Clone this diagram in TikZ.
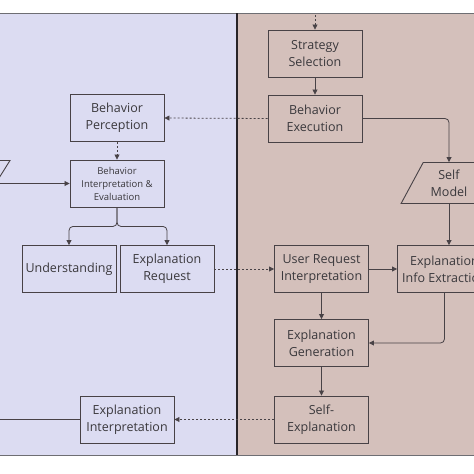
\documentclass[tikz,border=0pt]{standalone}
\usepackage{fontspec}
\setmainfont{Open Sans}
\usetikzlibrary{positioning, shapes.geometric, arrows.meta}
\definecolor{UserPanel}{RGB}{220,220,242}
\definecolor{RobotPanel}{RGB}{212,192,187}
\definecolor{LineGray}{RGB}{72,66,70}
\definecolor{TextGray}{RGB}{58,56,60}
\definecolor{BorderGray}{RGB}{110,110,115}
\definecolor{DividerDark}{RGB}{40,36,40}

\begin{document}
\begin{tikzpicture}[x=1pt, y=-1pt,
    block/.style={draw=LineGray, line width=0.9pt, minimum width=94pt, minimum height=47pt,
                  inner sep=1pt, align=center, text=TextGray, font=\fontsize{12.5}{17}\selectfont},
    smallblock/.style={block, font=\fontsize{9.5}{13}\selectfont},
    datablock/.style={draw=LineGray, line width=0.9pt, trapezium, trapezium left angle=60,
                  trapezium right angle=120, trapezium stretches=true, minimum width=96pt,
                  minimum height=41pt, inner sep=1pt, align=center, text=TextGray,
                  font=\fontsize{12.5}{17}\selectfont},
    flow/.style={draw=LineGray, line width=0.8pt, -{Triangle[length=5pt, width=5pt]}},
    dotflow/.style={flow, dash pattern=on 2pt off 2pt},
    link/.style={draw=LineGray, line width=0.8pt}]
    \useasboundingbox (0,0) rectangle (474,474);
    \clip (0,0) rectangle (474,474);

    % Panels
    \fill[UserPanel] (-10,13) rectangle (237,455);
    \fill[RobotPanel] (237,13) rectangle (484,455);
    \draw[BorderGray, line width=0.8pt] (-10,13) -- (484,13);
    \draw[BorderGray, line width=0.8pt] (-10,455) -- (484,455);
    \draw[DividerDark, line width=2pt] (237,13) -- (237,455);

    % User side
    \node[block] (perception) at (117,118) {Behavior\\Perception};
    \node[smallblock] (interp) at (117,183.5) {Behavior\\Interpretation \&\\Evaluation};
    \node[datablock] (observation) at (-38,181) {};
    \node[block] (understanding) at (69,269) {Understanding};
    \node[block] (request) at (167,269) {Explanation\\Request};
    \node[block] (explinterp) at (127,419.5) {Explanation\\Interpretation};
    \coordinate (leftout) at (-10,419.5);

    % Robot side
    \coordinate (topin) at (315,15);
    \node[block] (strategy) at (315,53.5) {Strategy\\Selection};
    \node[block] (execution) at (315,118.5) {Behavior\\Execution};
    \node[datablock] (selfmodel) at (449,183) {Self\\Model};
    \node[block] (userreq) at (321.5,269) {User Request\\Interpretation};
    \node[block] (extraction) at (444.5,269) {Explanation\\Info Extraction};
    \node[block] (generation) at (321.5,343) {Explanation\\Generation};
    \node[block] (selfexpl) at (321.5,419.5) {Self-\\Explanation};

    % Connections
    \draw[dotflow] (topin) -- (strategy.north);
    \draw[flow] (strategy) -- (execution);
    \draw[dotflow] (execution.west) -- (perception.east);
    \draw[dotflow] (perception) -- (interp);
    \draw[flow] (interp.west -| observation.east) -- (interp.west);
    \draw[flow, rounded corners=4pt] (interp.south) -- ++(0,19) -| (understanding.north);
    \draw[flow, rounded corners=4pt] (interp.south) -- ++(0,19) -| (request.north);
    \draw[flow, rounded corners=4pt] (execution.east) -| (selfmodel.north);
    \draw[flow] (selfmodel.south) -- (selfmodel.south |- extraction.north);
    \draw[dotflow] (request) -- (userreq);
    \draw[flow] (userreq) -- (extraction);
    \draw[flow] (userreq) -- (generation);
    \draw[flow, rounded corners=4pt] (extraction.south) |- (generation.east);
    \draw[flow] (generation) -- (selfexpl);
    \draw[dotflow] (selfexpl) -- (explinterp);
    \draw[link] (explinterp.west) -- (leftout);
\end{tikzpicture}
\end{document}
